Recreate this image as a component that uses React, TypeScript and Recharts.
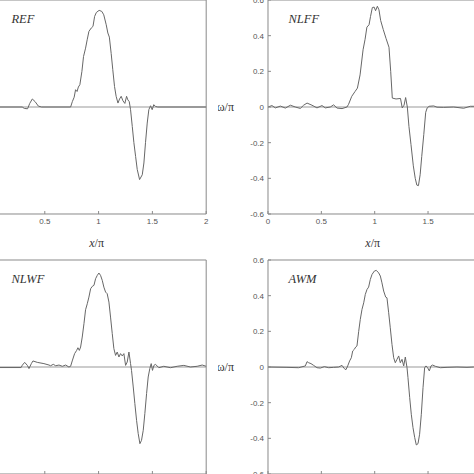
import React from 'react';
import { LineChart, Line, XAxis, YAxis, ReferenceLine, Label } from 'recharts';

const xTicks = [0, 0.5, 1, 1.5, 2];
const yTicks = [-0.6, -0.4, -0.2, 0, 0.2, 0.4, 0.6];

// x in units of pi, y = omega/pi
const refX = [0, 0.29, 0.31, 0.34, 0.36, 0.384, 0.41, 0.44, 0.47, 0.74, 0.756, 0.773, 0.786, 0.8, 0.812, 0.826, 0.845, 0.86, 0.879, 0.894, 0.91, 0.932, 0.948, 0.963, 0.979, 1.005, 1.03, 1.048, 1.071, 1.086, 1.1, 1.117, 1.132, 1.148, 1.163, 1.18, 1.195, 1.21, 1.226, 1.244, 1.26, 1.272, 1.285, 1.297, 1.313, 1.328, 1.344, 1.359, 1.381, 1.406, 1.421, 1.436, 1.452, 1.467, 1.483, 1.498, 1.513, 1.529, 1.55, 2];
const refY = [0, 0, -0.008, -0.01, 0.02, 0.045, 0.03, 0.005, 0, 0, 0.03, 0.055, 0.097, 0.087, 0.112, 0.125, 0.2, 0.283, 0.33, 0.377, 0.424, 0.443, 0.452, 0.508, 0.53, 0.542, 0.536, 0.517, 0.461, 0.415, 0.392, 0.3, 0.209, 0.115, 0.06, 0.022, 0.045, 0.06, 0.035, 0.02, 0.06, 0.04, 0.03, -0.015, -0.109, -0.2, -0.277, -0.35, -0.407, -0.38, -0.314, -0.2, -0.09, -0.015, 0.007, -0.015, 0.013, 0.003, 0, 0];

const nlffX = [0, 0.037, 0.069, 0.116, 0.163, 0.21, 0.256, 0.303, 0.334, 0.366, 0.412, 0.459, 0.506, 0.537, 0.584, 0.615, 0.647, 0.694, 0.74, 0.755, 0.785, 0.816, 0.838, 0.863, 0.891, 0.91, 0.927, 0.947, 0.961, 0.978, 0.995, 1.008, 1.025, 1.04, 1.056, 1.08, 1.106, 1.134, 1.15, 1.165, 1.2, 1.242, 1.258, 1.275, 1.29, 1.306, 1.321, 1.34, 1.362, 1.38, 1.395, 1.41, 1.426, 1.441, 1.46, 1.478, 1.492, 1.51, 1.553, 1.584, 1.646, 1.74, 1.834, 1.896, 1.93, 2];
const nlffY = [0, 0.008, -0.005, 0.005, -0.006, 0.01, 0, -0.008, 0.01, 0.022, 0.01, -0.005, 0.008, -0.005, 0, 0.012, -0.006, -0.009, 0, 0.015, 0.06, 0.087, 0.106, 0.18, 0.321, 0.38, 0.448, 0.461, 0.508, 0.558, 0.56, 0.54, 0.565, 0.545, 0.485, 0.435, 0.385, 0.335, 0.2, 0.05, 0.045, 0.048, -0.005, 0.01, 0.053, 0, -0.109, -0.21, -0.33, -0.4, -0.438, -0.441, -0.38, -0.277, -0.155, -0.03, -0.005, 0.004, 0.006, -0.001, -0.002, 0, -0.007, 0.004, 0.004, 0];

const nlwfX = [0, 0.28, 0.291, 0.313, 0.338, 0.353, 0.375, 0.39, 0.43, 0.492, 0.539, 0.554, 0.579, 0.601, 0.632, 0.663, 0.694, 0.724, 0.74, 0.755, 0.777, 0.796, 0.808, 0.821, 0.833, 0.848, 0.864, 0.879, 0.895, 0.91, 0.926, 0.941, 0.957, 0.972, 0.988, 1.003, 1.018, 1.034, 1.049, 1.065, 1.08, 1.096, 1.111, 1.127, 1.142, 1.158, 1.173, 1.189, 1.204, 1.22, 1.235, 1.251, 1.266, 1.282, 1.297, 1.306, 1.322, 1.337, 1.353, 1.368, 1.384, 1.399, 1.415, 1.43, 1.446, 1.461, 1.476, 1.489, 1.501, 1.514, 1.529, 1.56, 1.606, 1.668, 1.73, 1.792, 1.854, 1.916, 1.963, 2];
const nlwfY = [-0.003, -0.003, 0.01, 0.026, 0.009, -0.009, 0.019, 0.034, 0.026, 0.019, 0.011, 0.007, 0.015, 0.007, 0.011, 0.004, 0.011, 0, 0.004, 0.034, 0.075, 0.093, 0.108, 0.093, 0.112, 0.168, 0.243, 0.321, 0.355, 0.392, 0.439, 0.452, 0.458, 0.495, 0.514, 0.527, 0.514, 0.486, 0.448, 0.42, 0.411, 0.364, 0.28, 0.187, 0.103, 0.065, 0.084, 0.056, 0.075, 0.062, 0.075, 0.009, 0.028, 0.084, 0.019, -0.019, -0.112, -0.205, -0.299, -0.373, -0.43, -0.411, -0.355, -0.261, -0.149, -0.056, -0.009, 0.019, -0.019, 0.009, 0.015, -0.004, 0.004, -0.004, 0.004, 0.009, 0, 0.004, 0.011, 0.004];

const awmX = [0, 0.178, 0.287, 0.35, 0.366, 0.381, 0.403, 0.428, 0.459, 0.49, 0.528, 0.569, 0.615, 0.662, 0.694, 0.715, 0.731, 0.747, 0.765, 0.781, 0.794, 0.809, 0.822, 0.834, 0.85, 0.865, 0.881, 0.897, 0.912, 0.928, 0.943, 0.959, 0.975, 0.997, 1.015, 1.037, 1.053, 1.068, 1.084, 1.103, 1.115, 1.131, 1.146, 1.162, 1.178, 1.193, 1.209, 1.225, 1.24, 1.256, 1.272, 1.287, 1.303, 1.312, 1.328, 1.343, 1.359, 1.375, 1.39, 1.406, 1.421, 1.437, 1.453, 1.468, 1.481, 1.496, 1.512, 1.528, 1.543, 1.568, 1.615, 1.678, 1.771, 1.865, 1.928, 2];
const awmY = [0, -0.002, -0.004, 0.006, 0.03, 0.024, 0.019, 0.009, -0.004, -0.006, 0.002, -0.004, -0.002, 0, 0.009, -0.009, -0.015, 0.006, 0.034, 0.052, 0.09, 0.099, 0.112, 0.118, 0.2, 0.267, 0.323, 0.36, 0.407, 0.435, 0.448, 0.491, 0.519, 0.538, 0.542, 0.528, 0.51, 0.472, 0.426, 0.392, 0.388, 0.304, 0.22, 0.127, 0.052, 0.024, 0.043, 0.062, 0.024, 0.043, 0.006, 0.056, -0.004, -0.06, -0.172, -0.265, -0.34, -0.396, -0.437, -0.43, -0.377, -0.265, -0.116, -0.004, 0.006, -0.004, -0.022, 0.006, 0.011, 0.004, -0.004, -0.002, 0, -0.002, 0, 0];

const toRows = (xs: number[], ys: number[]) => xs.map((x, i) => ({ x, y: ys[i] }));

const AXIS = '#8a8a8a';
const CURVE = '#666';
const tickFont = { fill: '#555', fontSize: 8, fontFamily: '"Liberation Sans", Arial, sans-serif' };
const serif = '"Liberation Serif", "Times New Roman", serif';

const LEFT_W = 50;
const TOP_H = 1; // top axis band
const TOP_M = 9;
const RIGHT_W = 1; // right axis band
const RIGHT_M = 9;
const BOTTOM_H = 40;

interface PanelProps {
  title: string;
  xs: number[];
  ys: number[];
  left: number;
  top: number;
  w: number;
  h: number;
}

const Panel: React.FC<PanelProps> = ({ title, xs, ys, left, top, w, h }) => {
  const data = toRows(xs, ys);

  const TitleLabel = (p: any) => {
    const vb = p.viewBox;
    return (
      <text x={vb.x + 20.5} y={vb.y + vb.height + 23} fontFamily={serif} fontStyle="italic" fontSize={12.5} fill="#333">
        {title}
      </text>
    );
  };

  const XLabel = (p: any) => {
    const vb = p.viewBox;
    return (
      <text x={vb.x + vb.width / 2 - 2} y={vb.y + 33} textAnchor="middle" fontFamily={serif} fontSize={12} fill="#333">
        <tspan fontStyle="italic">x</tspan>/π
      </text>
    );
  };

  const YLabel = (p: any) => {
    const vb = p.viewBox;
    return (
      <text x={vb.x - 1.3} y={vb.y + vb.height / 2 + 4} fontFamily={serif} fontSize={12} fill="#333">
        ω/π
      </text>
    );
  };

  const axisLine = { stroke: AXIS, strokeWidth: 1 };

  return (
    <div style={{ position: 'absolute', left: left - LEFT_W, top: top - TOP_M - TOP_H }}>
      <LineChart
        width={w + LEFT_W + RIGHT_W + RIGHT_M}
        height={h + TOP_M + TOP_H + BOTTOM_H}
        data={data}
        margin={{ top: TOP_M, right: RIGHT_M, bottom: 0, left: 0 }}
      >
        <XAxis
          xAxisId="bottom"
          dataKey="x"
          type="number"
          domain={[0, 2]}
          ticks={xTicks}
          height={BOTTOM_H}
          axisLine={axisLine}
          tickLine={axisLine}
          tickSize={-3}
          tickMargin={7}
          tick={tickFont}
          interval={0}
        >
          <Label content={XLabel} />
        </XAxis>
        <XAxis
          xAxisId="top"
          orientation="top"
          dataKey="x"
          type="number"
          domain={[0, 2]}
          ticks={xTicks}
          height={TOP_H}
          axisLine={axisLine}
          tickLine={axisLine}
          tickSize={-3}
          tick={false}
          interval={0}
        >
          <Label content={TitleLabel} />
        </XAxis>
        <YAxis
          yAxisId="left"
          type="number"
          domain={[-0.6, 0.6]}
          ticks={yTicks}
          width={LEFT_W}
          axisLine={axisLine}
          tickLine={axisLine}
          tickSize={-3}
          tickMargin={7}
          tick={tickFont}
          interval={0}
        >
          <Label content={YLabel} />
        </YAxis>
        <YAxis
          yAxisId="right"
          orientation="right"
          type="number"
          domain={[-0.6, 0.6]}
          ticks={yTicks}
          width={RIGHT_W}
          axisLine={axisLine}
          tickLine={axisLine}
          tickSize={-3}
          tick={false}
          interval={0}
        />
        <ReferenceLine xAxisId="bottom" yAxisId="left" y={0} stroke="#999" strokeWidth={1} />
        <Line
          xAxisId="bottom"
          yAxisId="left"
          type="linear"
          dataKey="y"
          stroke={CURVE}
          strokeWidth={1}
          dot={false}
          activeDot={false}
          isAnimationActive={false}
        />
      </LineChart>
    </div>
  );
};

export default function App() {
  return (
    <div style={{ position: 'absolute', left: 0, top: 0, width: 474, height: 474, overflow: 'hidden', background: '#fff' }}>
      <Panel title="REF" xs={refX} ys={refY} left={-9.5} top={0.3} w={215.2} h={214} />
      <Panel title="NLFF" xs={nlffX} ys={nlffY} left={268} top={0.3} w={213.4} h={214} />
      <Panel title="NLWF" xs={nlwfX} ys={nlwfY} left={-9.5} top={260} w={215.2} h={214} />
      <Panel title="AWM" xs={awmX} ys={awmY} left={268} top={260} w={213.4} h={214} />
    </div>
  );
}
